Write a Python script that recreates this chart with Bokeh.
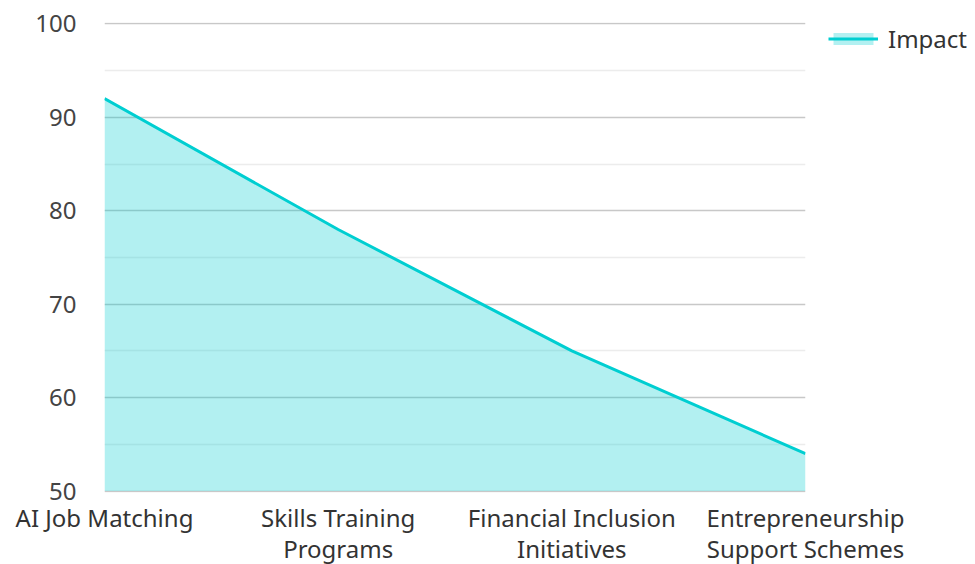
from bokeh.plotting import figure
from bokeh.models import Range1d, FixedTicker, Legend, LegendItem, ColumnDataSource
from bokeh.embed import file_html
from bokeh.resources import INLINE

categories = ["AI Job Matching", "Skills Training Programs",
              "Financial Inclusion Initiatives", "Entrepreneurship Support Schemes"]
tick_labels = ["AI Job Matching", "Skills Training\nPrograms",
               "Financial Inclusion\nInitiatives", "Entrepreneurship\nSupport Schemes"]
impact = [92, 78, 65, 54]
y_ticks = [50, 60, 70, 80, 90, 100]
y_minor = [55, 65, 75, 85, 95]
y_min, y_max = 50, 100
series_name = "Impact"

FONT = "Noto Sans"
LINE = "#00CED1"

xs = list(range(len(categories)))
src = ColumnDataSource(dict(x=xs, y=impact, base=[y_min] * len(xs)))

# small pad so that the grid lines at 50 and 100 are drawn
pad = 0.15
p = figure(frame_width=701, frame_height=470, output_backend="svg", toolbar_location=None,
           x_range=Range1d(0, len(categories) - 1),
           y_range=Range1d(y_min - pad, y_max + pad),
           min_border_left=104, min_border_right=170, min_border_top=22,
           min_border_bottom=0)
p.outline_line_color = None
p.background_fill_color = "white"
p.border_fill_color = "white"

area = p.varea(x="x", y1="base", y2="y", source=src, fill_color=LINE, fill_alpha=0.3)
line = p.line(x="x", y="y", source=src, line_color=LINE, line_width=3)

# x axis
p.xaxis.ticker = FixedTicker(ticks=xs)
p.xaxis.major_label_overrides = {i: t for i, t in enumerate(tick_labels)}
p.xaxis.axis_line_color = None
p.xaxis.major_tick_line_color = None
p.xaxis.minor_tick_line_color = None
p.xaxis.major_tick_in = 0
p.xaxis.major_tick_out = 0
p.xaxis.major_label_standoff = 8
p.xaxis.major_label_text_font = FONT
p.xaxis.major_label_text_font_size = "24px"
p.xaxis.major_label_text_line_height = 0.95
p.xaxis.major_label_text_color = "#333333"
p.xgrid.grid_line_color = None

# y axis
p.yaxis.ticker = FixedTicker(ticks=y_ticks, minor_ticks=y_minor)
p.yaxis.axis_line_color = None
p.yaxis.major_tick_line_color = None
p.yaxis.minor_tick_line_color = None
p.yaxis.major_tick_in = 0
p.yaxis.major_tick_out = 0
p.yaxis.major_label_standoff = 24
p.yaxis.major_label_text_font = FONT
p.yaxis.major_label_text_font_size = "24px"
p.yaxis.major_label_text_color = "#444444"
p.ygrid.grid_line_color = "#c8c8c8"
p.ygrid.grid_line_width = 1.5
p.ygrid.minor_grid_line_color = "#ececec"
p.ygrid.minor_grid_line_width = 1.5

legend = Legend(items=[LegendItem(label=series_name, renderers=[area, line])],
                location=(23, 437), padding=0, margin=0, spacing=0,
                glyph_width=50, glyph_height=15, label_standoff=10,
                label_text_font=FONT, label_text_font_size="24px",
                label_text_color="#333333", border_line_color=None,
                background_fill_alpha=0)
p.add_layout(legend, "right")

open("out.html", "w").write(file_html(p, INLINE))
